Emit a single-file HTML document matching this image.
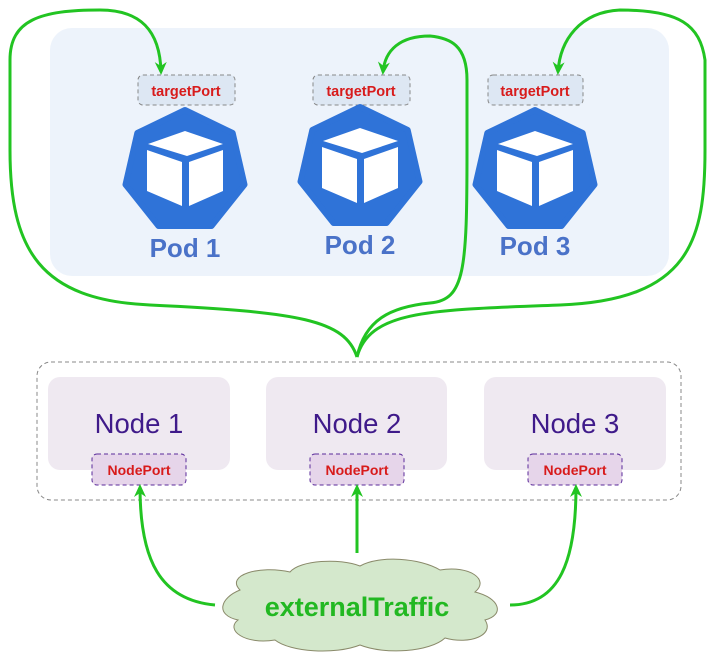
<!DOCTYPE html>
<html><head><meta charset="utf-8"><style>
html,body{margin:0;padding:0;background:#fff;}
svg{display:block;}
</style></head><body>
<svg width="720" height="668" viewBox="0 0 720 668" xmlns="http://www.w3.org/2000/svg" font-family="Liberation Sans, sans-serif">
<defs>
<marker id="ah" markerWidth="14" markerHeight="14" refX="10" refY="7" orient="auto" markerUnits="userSpaceOnUse">
<path d="M0,1 L13,7 L0,13 L4,7 Z" fill="#22c422"/>
</marker>
<g id="pod">
<polygon points="0,-61 47.7,-38 59.5,13.6 26.5,55 -26.5,55 -59.5,13.6 -47.7,-38" fill="#2f73d8" stroke="#2f73d8" stroke-width="6" stroke-linejoin="round"/>
<polygon points="-37,-27 0,-40 38,-27 2,-15" fill="#fff"/>
<polygon points="-38,-21 -3,-9 -3,35 -38,20" fill="#fff"/>
<polygon points="4,-9 38,-21 38,20 4,35" fill="#fff"/>
</g>
</defs>
<rect x="50" y="28" width="619" height="248" rx="22" fill="#edf3fb"/>
<g font-weight="bold" font-size="14.5" fill="#d81b1b" text-anchor="middle">
<rect x="138" y="75" width="97" height="30" rx="5" fill="#dde7f3" stroke="#888" stroke-dasharray="4,3"/>
<text x="186" y="96">targetPort</text>
<rect x="313" y="75" width="97" height="30" rx="5" fill="#dde7f3" stroke="#888" stroke-dasharray="4,3"/>
<text x="361" y="96">targetPort</text>
<rect x="488" y="75" width="95" height="30" rx="5" fill="#dde7f3" stroke="#888" stroke-dasharray="4,3"/>
<text x="535" y="96">targetPort</text>
</g>
<use href="#pod" x="185" y="171"/>
<use href="#pod" x="360" y="168"/>
<use href="#pod" x="535" y="171"/>
<g font-weight="bold" font-size="26" fill="#4a72c8" text-anchor="middle">
<text x="185" y="257">Pod 1</text>
<text x="360" y="254">Pod 2</text>
<text x="535" y="255">Pod 3</text>
</g>
<rect x="37" y="362" width="644" height="138" rx="14" fill="none" stroke="#888" stroke-dasharray="4,3"/>
<g fill="#efe9f1">
<rect x="48" y="377" width="182" height="93" rx="12"/>
<rect x="266" y="377" width="181" height="93" rx="12"/>
<rect x="484" y="377" width="182" height="93" rx="12"/>
</g>
<g font-size="27.5" fill="#3f1a8a" text-anchor="middle">
<text x="139" y="433">Node 1</text>
<text x="357" y="433">Node 2</text>
<text x="575" y="433">Node 3</text>
</g>
<g font-weight="bold" font-size="14" fill="#d81b1b" text-anchor="middle">
<rect x="92" y="454" width="94" height="31" rx="5" fill="#e6d5ea" stroke="#5a2a9a" stroke-dasharray="4,3"/>
<text x="139" y="475">NodePort</text>
<rect x="310" y="454" width="94" height="31" rx="5" fill="#e6d5ea" stroke="#5a2a9a" stroke-dasharray="4,3"/>
<text x="357" y="475">NodePort</text>
<rect x="528" y="454" width="94" height="31" rx="5" fill="#e6d5ea" stroke="#5a2a9a" stroke-dasharray="4,3"/>
<text x="575" y="475">NodePort</text>
</g>
<g fill="none" stroke="#22c422" stroke-width="3">
<path d="M357,357 C345,320 300,312 150,305 C40,300 10,250 10,150 L10,60 C10,20 40,10 100,10 C140,10 160,30 161,72" marker-end="url(#ah)"/>
<path d="M357,357 C365,320 390,307 430,303 C465,300 467,270 467,150 L467,80 C467,45 450,38 430,36 C400,36 385,50 383,72" marker-end="url(#ah)"/>
<path d="M357,357 C370,310 430,310 560,305 C690,300 705,240 705,150 L705,60 C700,25 680,10 620,10 C580,12 560,40 558,72" marker-end="url(#ah)"/>
<path d="M357,553 L357,487" marker-end="url(#ah)"/>
<path d="M215,605 C160,600 140,560 140,487" marker-end="url(#ah)"/>
<path d="M510,605 C560,605 576,560 576,487" marker-end="url(#ah)"/>
</g>
<path d="M240,590 C225,575 260,565 290,572 C300,560 340,558 360,566 C380,555 420,558 440,570 C470,565 490,580 475,592 C500,598 505,615 485,620 C495,635 470,645 445,638 C430,652 385,655 360,645 C335,655 290,652 275,640 C245,645 225,630 238,620 C215,615 220,598 240,590 Z" fill="#d4e8cc" stroke="#8a8a6a" stroke-width="1"/>
<text x="357" y="616" font-weight="bold" font-size="27" fill="#22b822" text-anchor="middle">externalTraffic</text>
</svg>
</body></html>
